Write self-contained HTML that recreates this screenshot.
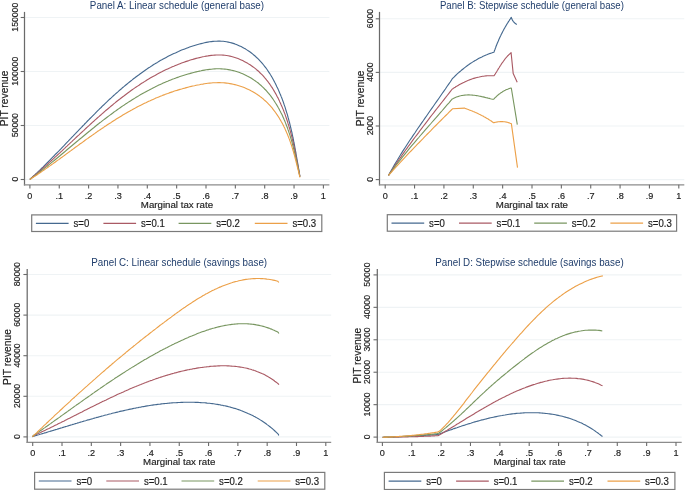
<!DOCTYPE html>
<html><head><meta charset="utf-8"><title>PIT revenue panels</title>
<style>
html,body{margin:0;padding:0;background:#fff;}
svg{display:block;}
text{font-family:"Liberation Sans", Arial, Helvetica, sans-serif;fill:#1e1e1e;stroke:#1e1e1e;stroke-width:0.18px;}
.ti{stroke:none;}
.tk{font-size:9.3px;}
.ty{font-size:9.8px;}
.ay{font-size:10.3px;letter-spacing:0px;}
.at{font-size:9.7px;}
.lg{font-size:10.0px;}
.ti{font-size:11.2px;fill:#1f3d6b;}
</style></head>
<body>
<svg width="685" height="490" viewBox="0 0 685 490">
<rect width="685" height="490" fill="#fff"/>
<line x1="25.2" y1="179.5" x2="329.4" y2="179.5" stroke="#eff3f5" stroke-width="1.1"/>
<line x1="25.2" y1="125.5" x2="329.4" y2="125.5" stroke="#eff3f5" stroke-width="1.1"/>
<line x1="25.2" y1="71.5" x2="329.4" y2="71.5" stroke="#eff3f5" stroke-width="1.1"/>
<line x1="25.2" y1="17.5" x2="329.4" y2="17.5" stroke="#eff3f5" stroke-width="1.1"/>
<path d="M29.9,179.5 L31.1,178.2 L32.3,177.1 L33.5,176.0 L34.8,174.9 L36.0,173.7 L37.2,172.6 L38.4,171.4 L39.6,170.3 L40.8,169.1 L42.0,167.9 L43.2,166.8 L44.4,165.6 L45.6,164.4 L46.8,163.2 L48.0,162.0 L49.1,160.8 L50.3,159.6 L51.5,158.4 L52.7,157.2 L53.9,156.0 L55.1,154.7 L56.3,153.5 L57.5,152.3 L58.7,151.1 L59.9,149.8 L61.1,148.6 L62.3,147.3 L63.5,146.1 L64.7,144.8 L65.8,143.6 L67.0,142.3 L68.2,141.1 L69.4,139.8 L70.6,138.6 L71.8,137.3 L73.0,136.1 L74.2,134.8 L75.4,133.6 L76.6,132.3 L77.8,131.1 L79.0,129.8 L80.2,128.6 L81.5,127.3 L82.7,126.0 L83.9,124.8 L85.1,123.5 L86.3,122.3 L87.5,121.0 L88.7,119.8 L90.0,118.5 L91.2,117.3 L92.4,116.1 L93.7,114.8 L94.9,113.6 L96.1,112.3 L97.3,111.1 L98.6,109.9 L99.8,108.7 L101.1,107.5 L102.3,106.2 L103.6,105.0 L104.8,103.8 L106.1,102.6 L107.4,101.4 L108.6,100.2 L109.9,99.0 L111.2,97.9 L112.5,96.7 L113.7,95.5 L115.0,94.4 L116.3,93.2 L117.6,92.1 L118.9,90.9 L120.2,89.8 L121.5,88.7 L122.8,87.5 L124.2,86.4 L125.5,85.3 L126.8,84.2 L128.1,83.1 L129.5,82.0 L130.8,81.0 L132.2,79.9 L133.5,78.8 L134.9,77.8 L136.2,76.7 L137.6,75.7 L139.0,74.7 L140.3,73.7 L141.7,72.7 L143.1,71.7 L144.5,70.7 L145.9,69.7 L147.3,68.8 L148.7,67.8 L150.2,66.9 L151.6,66.0 L153.0,65.0 L154.5,64.1 L155.9,63.2 L157.4,62.4 L158.8,61.5 L160.3,60.6 L161.8,59.8 L163.2,59.0 L164.7,58.2 L166.2,57.4 L167.7,56.6 L169.2,55.8 L170.8,55.0 L172.3,54.3 L173.8,53.6 L175.4,52.9 L176.9,52.2 L178.5,51.5 L180.0,50.8 L181.6,50.1 L183.2,49.5 L184.8,48.9 L186.4,48.3 L188.0,47.7 L189.6,47.1 L191.2,46.5 L192.8,46.0 L194.5,45.5 L196.1,45.0 L197.8,44.5 L199.5,44.0 L201.1,43.6 L202.8,43.2 L204.5,42.8 L206.2,42.4 L207.9,42.1 L209.6,41.8 L211.3,41.6 L213.0,41.4 L214.7,41.3 L216.4,41.2 L218.1,41.1 L219.8,41.1 L221.4,41.2 L223.1,41.3 L224.8,41.5 L226.5,41.8 L228.2,42.1 L229.9,42.5 L231.5,42.9 L233.2,43.4 L234.8,43.9 L236.4,44.5 L238.0,45.2 L239.6,45.9 L241.2,46.6 L242.7,47.4 L244.2,48.3 L245.7,49.1 L247.2,50.1 L248.6,51.0 L250.1,52.0 L251.4,53.0 L252.8,54.1 L254.1,55.2 L255.4,56.3 L256.6,57.5 L257.9,58.7 L259.1,59.9 L260.2,61.1 L261.4,62.4 L262.5,63.7 L263.6,65.0 L264.6,66.3 L265.7,67.7 L266.7,69.0 L267.7,70.5 L268.6,71.9 L269.6,73.3 L270.5,74.8 L271.4,76.2 L272.3,77.7 L273.1,79.2 L273.9,80.7 L274.7,82.3 L275.5,83.8 L276.3,85.4 L277.0,86.9 L277.8,88.5 L278.5,90.1 L279.2,91.7 L279.8,93.2 L280.5,94.8 L281.1,96.4 L281.8,98.0 L282.4,99.6 L283.0,101.2 L283.6,102.9 L284.1,104.5 L284.7,106.1 L285.2,107.7 L285.7,109.3 L286.2,111.0 L286.7,112.6 L287.2,114.2 L287.7,115.9 L288.1,117.5 L288.6,119.2 L289.0,120.8 L289.5,122.5 L289.9,124.1 L290.3,125.8 L290.7,127.5 L291.1,129.1 L291.5,130.8 L291.9,132.4 L292.2,134.1 L292.6,135.8 L292.9,137.5 L293.3,139.1 L293.6,140.8 L293.9,142.5 L294.3,144.2 L294.6,145.8 L294.9,147.5 L295.2,149.2 L295.5,150.9 L295.9,152.6 L296.1,154.3 L296.4,156.0 L296.7,157.7 L297.0,159.3 L297.3,161.0 L297.6,162.7 L297.9,164.4 L298.2,166.1 L298.5,167.8 L298.8,169.5 L299.1,171.2 L299.4,172.9 L299.6,174.6 L299.9,176.3" fill="none" stroke="#45698f" stroke-width="1.12" stroke-linejoin="round"/>
<path d="M29.9,179.5 L31.1,178.4 L32.3,177.3 L33.5,176.3 L34.8,175.3 L36.0,174.3 L37.2,173.3 L38.4,172.2 L39.6,171.2 L40.8,170.2 L42.0,169.1 L43.2,168.0 L44.4,167.0 L45.6,165.9 L46.8,164.8 L48.0,163.8 L49.1,162.7 L50.3,161.6 L51.5,160.5 L52.7,159.4 L53.9,158.3 L55.1,157.2 L56.3,156.1 L57.5,155.0 L58.7,153.9 L59.9,152.8 L61.1,151.7 L62.3,150.6 L63.5,149.4 L64.7,148.3 L65.8,147.2 L67.0,146.1 L68.2,144.9 L69.4,143.8 L70.6,142.7 L71.8,141.6 L73.0,140.4 L74.2,139.3 L75.4,138.2 L76.6,137.0 L77.8,135.9 L79.0,134.8 L80.2,133.6 L81.5,132.5 L82.7,131.4 L83.9,130.3 L85.1,129.1 L86.3,128.0 L87.5,126.9 L88.7,125.8 L90.0,124.6 L91.2,123.5 L92.4,122.4 L93.7,121.3 L94.9,120.2 L96.1,119.1 L97.3,118.0 L98.6,116.9 L99.8,115.8 L101.1,114.7 L102.3,113.6 L103.6,112.5 L104.8,111.4 L106.1,110.3 L107.4,109.2 L108.6,108.2 L109.9,107.1 L111.2,106.0 L112.5,105.0 L113.7,103.9 L115.0,102.9 L116.3,101.8 L117.6,100.8 L118.9,99.8 L120.2,98.8 L121.5,97.7 L122.8,96.7 L124.2,95.7 L125.5,94.7 L126.8,93.7 L128.1,92.8 L129.5,91.8 L130.8,90.8 L132.2,89.8 L133.5,88.9 L134.9,87.9 L136.2,87.0 L137.6,86.1 L139.0,85.2 L140.3,84.2 L141.7,83.3 L143.1,82.5 L144.5,81.6 L145.9,80.7 L147.3,79.8 L148.7,79.0 L150.2,78.1 L151.6,77.3 L153.0,76.5 L154.5,75.7 L155.9,74.9 L157.4,74.1 L158.8,73.3 L160.3,72.5 L161.8,71.8 L163.2,71.0 L164.7,70.3 L166.2,69.6 L167.7,68.9 L169.2,68.2 L170.8,67.5 L172.3,66.8 L173.8,66.2 L175.4,65.5 L176.9,64.9 L178.5,64.3 L180.0,63.7 L181.6,63.1 L183.2,62.5 L184.8,61.9 L186.4,61.4 L188.0,60.9 L189.6,60.3 L191.2,59.8 L192.8,59.4 L194.5,58.9 L196.1,58.4 L197.8,58.0 L199.5,57.6 L201.1,57.2 L202.8,56.8 L204.5,56.5 L206.2,56.1 L207.9,55.9 L209.6,55.6 L211.3,55.4 L213.0,55.2 L214.7,55.1 L216.4,55.0 L218.1,55.0 L219.8,55.0 L221.4,55.0 L223.1,55.1 L224.8,55.3 L226.5,55.5 L228.2,55.8 L229.9,56.1 L231.5,56.5 L233.2,57.0 L234.8,57.5 L236.4,58.0 L238.0,58.6 L239.6,59.2 L241.2,59.9 L242.7,60.6 L244.2,61.4 L245.7,62.2 L247.2,63.0 L248.6,63.9 L250.1,64.8 L251.4,65.7 L252.8,66.7 L254.1,67.6 L255.4,68.6 L256.6,69.7 L257.9,70.8 L259.1,71.8 L260.2,73.0 L261.4,74.1 L262.5,75.2 L263.6,76.4 L264.6,77.6 L265.7,78.8 L266.7,80.1 L267.7,81.3 L268.6,82.6 L269.6,83.9 L270.5,85.2 L271.4,86.6 L272.3,87.9 L273.1,89.2 L273.9,90.6 L274.7,92.0 L275.5,93.4 L276.3,94.8 L277.0,96.2 L277.8,97.6 L278.5,99.0 L279.2,100.4 L279.8,101.9 L280.5,103.3 L281.1,104.7 L281.8,106.2 L282.4,107.6 L283.0,109.1 L283.6,110.5 L284.1,112.0 L284.7,113.4 L285.2,114.9 L285.7,116.4 L286.2,117.8 L286.7,119.3 L287.2,120.8 L287.7,122.3 L288.1,123.7 L288.6,125.2 L289.0,126.7 L289.5,128.2 L289.9,129.7 L290.3,131.2 L290.7,132.7 L291.1,134.2 L291.5,135.7 L291.9,137.2 L292.2,138.7 L292.6,140.2 L292.9,141.7 L293.3,143.2 L293.6,144.7 L293.9,146.2 L294.3,147.7 L294.6,149.2 L294.9,150.7 L295.2,152.2 L295.5,153.8 L295.9,155.3 L296.1,156.8 L296.4,158.3 L296.7,159.8 L297.0,161.4 L297.3,162.9 L297.6,164.4 L297.9,165.9 L298.2,167.5 L298.5,169.0 L298.8,170.5 L299.1,172.0 L299.4,173.6 L299.6,175.1 L299.9,176.6" fill="none" stroke="#aa5a64" stroke-width="1.12" stroke-linejoin="round"/>
<path d="M29.9,179.5 L31.1,178.5 L32.3,177.6 L33.5,176.7 L34.8,175.8 L36.0,174.9 L37.2,174.0 L38.4,173.0 L39.6,172.1 L40.8,171.2 L42.0,170.2 L43.2,169.3 L44.4,168.4 L45.6,167.4 L46.8,166.5 L48.0,165.5 L49.1,164.6 L50.3,163.6 L51.5,162.6 L52.7,161.6 L53.9,160.7 L55.1,159.7 L56.3,158.7 L57.5,157.7 L58.7,156.7 L59.9,155.8 L61.1,154.8 L62.3,153.8 L63.5,152.8 L64.7,151.8 L65.8,150.8 L67.0,149.8 L68.2,148.8 L69.4,147.8 L70.6,146.8 L71.8,145.8 L73.0,144.8 L74.2,143.8 L75.4,142.8 L76.6,141.8 L77.8,140.8 L79.0,139.7 L80.2,138.7 L81.5,137.7 L82.7,136.7 L83.9,135.7 L85.1,134.7 L86.3,133.7 L87.5,132.7 L88.7,131.7 L90.0,130.7 L91.2,129.7 L92.4,128.8 L93.7,127.8 L94.9,126.8 L96.1,125.8 L97.3,124.8 L98.6,123.8 L99.8,122.8 L101.1,121.9 L102.3,120.9 L103.6,119.9 L104.8,119.0 L106.1,118.0 L107.4,117.0 L108.6,116.1 L109.9,115.1 L111.2,114.2 L112.5,113.3 L113.7,112.3 L115.0,111.4 L116.3,110.5 L117.6,109.5 L118.9,108.6 L120.2,107.7 L121.5,106.8 L122.8,105.9 L124.2,105.0 L125.5,104.1 L126.8,103.3 L128.1,102.4 L129.5,101.5 L130.8,100.7 L132.2,99.8 L133.5,99.0 L134.9,98.1 L136.2,97.3 L137.6,96.5 L139.0,95.6 L140.3,94.8 L141.7,94.0 L143.1,93.2 L144.5,92.5 L145.9,91.7 L147.3,90.9 L148.7,90.2 L150.2,89.4 L151.6,88.7 L153.0,87.9 L154.5,87.2 L155.9,86.5 L157.4,85.8 L158.8,85.1 L160.3,84.4 L161.8,83.8 L163.2,83.1 L164.7,82.4 L166.2,81.8 L167.7,81.2 L169.2,80.5 L170.8,79.9 L172.3,79.3 L173.8,78.8 L175.4,78.2 L176.9,77.6 L178.5,77.1 L180.0,76.5 L181.6,76.0 L183.2,75.5 L184.8,75.0 L186.4,74.5 L188.0,74.0 L189.6,73.6 L191.2,73.1 L192.8,72.7 L194.5,72.3 L196.1,71.9 L197.8,71.5 L199.5,71.1 L201.1,70.8 L202.8,70.4 L204.5,70.1 L206.2,69.8 L207.9,69.6 L209.6,69.4 L211.3,69.2 L213.0,69.0 L214.7,68.9 L216.4,68.8 L218.1,68.8 L219.8,68.8 L221.4,68.9 L223.1,69.0 L224.8,69.1 L226.5,69.3 L228.2,69.6 L229.9,69.9 L231.5,70.2 L233.2,70.6 L234.8,71.0 L236.4,71.5 L238.0,72.0 L239.6,72.6 L241.2,73.2 L242.7,73.8 L244.2,74.5 L245.7,75.2 L247.2,76.0 L248.6,76.7 L250.1,77.5 L251.4,78.3 L252.8,79.2 L254.1,80.1 L255.4,81.0 L256.6,81.9 L257.9,82.8 L259.1,83.8 L260.2,84.8 L261.4,85.8 L262.5,86.8 L263.6,87.9 L264.6,89.0 L265.7,90.0 L266.7,91.1 L267.7,92.3 L268.6,93.4 L269.6,94.5 L270.5,95.7 L271.4,96.9 L272.3,98.1 L273.1,99.3 L273.9,100.5 L274.7,101.7 L275.5,103.0 L276.3,104.2 L277.0,105.4 L277.8,106.7 L278.5,108.0 L279.2,109.2 L279.8,110.5 L280.5,111.8 L281.1,113.0 L281.8,114.3 L282.4,115.6 L283.0,116.9 L283.6,118.2 L284.1,119.5 L284.7,120.8 L285.2,122.1 L285.7,123.4 L286.2,124.7 L286.7,126.0 L287.2,127.3 L287.7,128.6 L288.1,129.9 L288.6,131.2 L289.0,132.6 L289.5,133.9 L289.9,135.2 L290.3,136.5 L290.7,137.9 L291.1,139.2 L291.5,140.5 L291.9,141.9 L292.2,143.2 L292.6,144.5 L292.9,145.9 L293.3,147.2 L293.6,148.6 L293.9,149.9 L294.3,151.2 L294.6,152.6 L294.9,153.9 L295.2,155.3 L295.5,156.6 L295.9,158.0 L296.1,159.3 L296.4,160.7 L296.7,162.0 L297.0,163.4 L297.3,164.7 L297.6,166.1 L297.9,167.4 L298.2,168.8 L298.5,170.2 L298.8,171.5 L299.1,172.9 L299.4,174.2 L299.6,175.6 L299.9,176.9" fill="none" stroke="#789660" stroke-width="1.12" stroke-linejoin="round"/>
<path d="M29.9,179.5 L31.1,178.6 L32.3,177.8 L33.5,177.0 L34.8,176.2 L36.0,175.5 L37.2,174.7 L38.4,173.8 L39.6,173.0 L40.8,172.2 L42.0,171.4 L43.2,170.6 L44.4,169.8 L45.6,168.9 L46.8,168.1 L48.0,167.3 L49.1,166.4 L50.3,165.6 L51.5,164.7 L52.7,163.9 L53.9,163.0 L55.1,162.2 L56.3,161.3 L57.5,160.4 L58.7,159.6 L59.9,158.7 L61.1,157.8 L62.3,157.0 L63.5,156.1 L64.7,155.2 L65.8,154.4 L67.0,153.5 L68.2,152.6 L69.4,151.7 L70.6,150.9 L71.8,150.0 L73.0,149.1 L74.2,148.2 L75.4,147.3 L76.6,146.5 L77.8,145.6 L79.0,144.7 L80.2,143.8 L81.5,143.0 L82.7,142.1 L83.9,141.2 L85.1,140.3 L86.3,139.4 L87.5,138.6 L88.7,137.7 L90.0,136.8 L91.2,136.0 L92.4,135.1 L93.7,134.2 L94.9,133.4 L96.1,132.5 L97.3,131.6 L98.6,130.8 L99.8,129.9 L101.1,129.1 L102.3,128.2 L103.6,127.4 L104.8,126.5 L106.1,125.7 L107.4,124.8 L108.6,124.0 L109.9,123.2 L111.2,122.4 L112.5,121.5 L113.7,120.7 L115.0,119.9 L116.3,119.1 L117.6,118.3 L118.9,117.5 L120.2,116.7 L121.5,115.9 L122.8,115.1 L124.2,114.3 L125.5,113.6 L126.8,112.8 L128.1,112.0 L129.5,111.3 L130.8,110.5 L132.2,109.8 L133.5,109.0 L134.9,108.3 L136.2,107.6 L137.6,106.8 L139.0,106.1 L140.3,105.4 L141.7,104.7 L143.1,104.0 L144.5,103.3 L145.9,102.7 L147.3,102.0 L148.7,101.3 L150.2,100.7 L151.6,100.0 L153.0,99.4 L154.5,98.8 L155.9,98.1 L157.4,97.5 L158.8,96.9 L160.3,96.3 L161.8,95.7 L163.2,95.1 L164.7,94.6 L166.2,94.0 L167.7,93.5 L169.2,92.9 L170.8,92.4 L172.3,91.9 L173.8,91.3 L175.4,90.8 L176.9,90.4 L178.5,89.9 L180.0,89.4 L181.6,89.0 L183.2,88.5 L184.8,88.1 L186.4,87.6 L188.0,87.2 L189.6,86.8 L191.2,86.4 L192.8,86.0 L194.5,85.7 L196.1,85.3 L197.8,85.0 L199.5,84.7 L201.1,84.3 L202.8,84.1 L204.5,83.8 L206.2,83.5 L207.9,83.3 L209.6,83.1 L211.3,83.0 L213.0,82.8 L214.7,82.7 L216.4,82.7 L218.1,82.6 L219.8,82.6 L221.4,82.7 L223.1,82.8 L224.8,82.9 L226.5,83.1 L228.2,83.3 L229.9,83.6 L231.5,83.9 L233.2,84.2 L234.8,84.6 L236.4,85.0 L238.0,85.5 L239.6,86.0 L241.2,86.5 L242.7,87.0 L244.2,87.6 L245.7,88.2 L247.2,88.9 L248.6,89.6 L250.1,90.3 L251.4,91.0 L252.8,91.7 L254.1,92.5 L255.4,93.3 L256.6,94.1 L257.9,94.9 L259.1,95.8 L260.2,96.6 L261.4,97.5 L262.5,98.4 L263.6,99.3 L264.6,100.3 L265.7,101.2 L266.7,102.2 L267.7,103.2 L268.6,104.2 L269.6,105.2 L270.5,106.2 L271.4,107.2 L272.3,108.2 L273.1,109.3 L273.9,110.4 L274.7,111.4 L275.5,112.5 L276.3,113.6 L277.0,114.7 L277.8,115.8 L278.5,116.9 L279.2,118.0 L279.8,119.1 L280.5,120.2 L281.1,121.3 L281.8,122.5 L282.4,123.6 L283.0,124.7 L283.6,125.8 L284.1,127.0 L284.7,128.1 L285.2,129.3 L285.7,130.4 L286.2,131.5 L286.7,132.7 L287.2,133.8 L287.7,135.0 L288.1,136.1 L288.6,137.3 L289.0,138.4 L289.5,139.6 L289.9,140.8 L290.3,141.9 L290.7,143.1 L291.1,144.2 L291.5,145.4 L291.9,146.6 L292.2,147.7 L292.6,148.9 L292.9,150.1 L293.3,151.2 L293.6,152.4 L293.9,153.6 L294.3,154.8 L294.6,155.9 L294.9,157.1 L295.2,158.3 L295.5,159.5 L295.9,160.7 L296.1,161.8 L296.4,163.0 L296.7,164.2 L297.0,165.4 L297.3,166.6 L297.6,167.8 L297.9,168.9 L298.2,170.1 L298.5,171.3 L298.8,172.5 L299.1,173.7 L299.4,174.9 L299.6,176.1 L299.9,177.3" fill="none" stroke="#eca048" stroke-width="1.12" stroke-linejoin="round"/>
<line x1="24.5" y1="11.9" x2="24.5" y2="185.5" stroke="#6a6a6a" stroke-width="1.25"/>
<line x1="23.9" y1="184.9" x2="329.4" y2="184.9" stroke="#8c8c8c" stroke-width="1.35"/>
<line x1="20.7" y1="179.5" x2="24.5" y2="179.5" stroke="#6a6a6a" stroke-width="1.1"/>
<text class="ty" text-anchor="middle" transform="translate(17.6,179.2) rotate(-90) scale(0.885,1)">0</text>
<line x1="20.7" y1="125.5" x2="24.5" y2="125.5" stroke="#6a6a6a" stroke-width="1.1"/>
<text class="ty" text-anchor="middle" transform="translate(17.6,125.2) rotate(-90) scale(0.885,1)">50000</text>
<line x1="20.7" y1="71.5" x2="24.5" y2="71.5" stroke="#6a6a6a" stroke-width="1.1"/>
<text class="ty" text-anchor="middle" transform="translate(17.6,71.2) rotate(-90) scale(0.885,1)">100000</text>
<line x1="20.7" y1="17.5" x2="24.5" y2="17.5" stroke="#6a6a6a" stroke-width="1.1"/>
<text class="ty" text-anchor="middle" transform="translate(17.6,17.2) rotate(-90) scale(0.885,1)">150000</text>
<line x1="29.9" y1="184.9" x2="29.9" y2="188.6" stroke="#6a6a6a" stroke-width="1.1"/>
<text class="tk" text-anchor="middle" transform="translate(29.9,198.5) scale(0.98,1)">0</text>
<line x1="59.25" y1="184.9" x2="59.25" y2="188.6" stroke="#6a6a6a" stroke-width="1.1"/>
<text class="tk" text-anchor="middle" transform="translate(59.25,198.5) scale(0.98,1)">.1</text>
<line x1="88.6" y1="184.9" x2="88.6" y2="188.6" stroke="#6a6a6a" stroke-width="1.1"/>
<text class="tk" text-anchor="middle" transform="translate(88.6,198.5) scale(0.98,1)">.2</text>
<line x1="117.95" y1="184.9" x2="117.95" y2="188.6" stroke="#6a6a6a" stroke-width="1.1"/>
<text class="tk" text-anchor="middle" transform="translate(117.95,198.5) scale(0.98,1)">.3</text>
<line x1="147.3" y1="184.9" x2="147.3" y2="188.6" stroke="#6a6a6a" stroke-width="1.1"/>
<text class="tk" text-anchor="middle" transform="translate(147.3,198.5) scale(0.98,1)">.4</text>
<line x1="176.65" y1="184.9" x2="176.65" y2="188.6" stroke="#6a6a6a" stroke-width="1.1"/>
<text class="tk" text-anchor="middle" transform="translate(176.65,198.5) scale(0.98,1)">.5</text>
<line x1="206" y1="184.9" x2="206" y2="188.6" stroke="#6a6a6a" stroke-width="1.1"/>
<text class="tk" text-anchor="middle" transform="translate(206,198.5) scale(0.98,1)">.6</text>
<line x1="235.35" y1="184.9" x2="235.35" y2="188.6" stroke="#6a6a6a" stroke-width="1.1"/>
<text class="tk" text-anchor="middle" transform="translate(235.35,198.5) scale(0.98,1)">.7</text>
<line x1="264.7" y1="184.9" x2="264.7" y2="188.6" stroke="#6a6a6a" stroke-width="1.1"/>
<text class="tk" text-anchor="middle" transform="translate(264.7,198.5) scale(0.98,1)">.8</text>
<line x1="294.05" y1="184.9" x2="294.05" y2="188.6" stroke="#6a6a6a" stroke-width="1.1"/>
<text class="tk" text-anchor="middle" transform="translate(294.05,198.5) scale(0.98,1)">.9</text>
<line x1="323.4" y1="184.9" x2="323.4" y2="188.6" stroke="#6a6a6a" stroke-width="1.1"/>
<text class="tk" text-anchor="middle" transform="translate(323.4,198.5) scale(0.98,1)">1</text>
<text class="at" text-anchor="middle" transform="translate(176.95,208) scale(1.0,1)">Marginal tax rate</text>
<text class="ay" text-anchor="middle" transform="translate(7.7,98.4) rotate(-90)">PIT revenue</text>
<text class="ti" text-anchor="middle" transform="translate(176.95,8.5) scale(0.875,1)">Panel A: Linear schedule (general base)</text>
<rect x="31.7" y="214.9" width="290.1" height="16.6" fill="#fff" stroke="#7a7a7a" stroke-width="1.2"/>
<line x1="35.9" y1="223.4" x2="68.6" y2="223.4" stroke="#45698f" stroke-width="1.15"/>
<text class="lg" transform="translate(73.5,227.4) scale(0.96,1)">s=0</text>
<line x1="103.4" y1="223.4" x2="136.1" y2="223.4" stroke="#aa5a64" stroke-width="1.15"/>
<text class="lg" transform="translate(141,227.4) scale(0.96,1)">s=0.1</text>
<line x1="178.6" y1="223.4" x2="211.3" y2="223.4" stroke="#789660" stroke-width="1.15"/>
<text class="lg" transform="translate(216.2,227.4) scale(0.96,1)">s=0.2</text>
<line x1="254.8" y1="223.4" x2="287.5" y2="223.4" stroke="#eca048" stroke-width="1.15"/>
<text class="lg" transform="translate(292.4,227.4) scale(0.96,1)">s=0.3</text>
<line x1="380.2" y1="179.6" x2="684.3" y2="179.6" stroke="#eff3f5" stroke-width="1.1"/>
<line x1="380.2" y1="126" x2="684.3" y2="126" stroke="#eff3f5" stroke-width="1.1"/>
<line x1="380.2" y1="72.4" x2="684.3" y2="72.4" stroke="#eff3f5" stroke-width="1.1"/>
<line x1="380.2" y1="18.8" x2="684.3" y2="18.8" stroke="#eff3f5" stroke-width="1.1"/>
<path d="M388.5,175.4 L389.9,172.8 L391.4,170.2 L392.8,167.7 L394.3,165.1 L395.8,162.5 L397.4,160.0 L398.9,157.5 L400.4,155.0 L402.0,152.4 L403.6,149.9 L405.2,147.5 L406.8,145.0 L408.4,142.5 L410.0,140.0 L411.7,137.6 L413.3,135.1 L415.0,132.7 L416.6,130.2 L418.3,127.8 L420.0,125.4 L421.7,122.9 L423.4,120.5 L425.0,118.1 L426.7,115.7 L428.4,113.2 L430.1,110.8 L431.8,108.4 L433.5,106.0 L435.2,103.5 L436.9,101.1 L438.6,98.7 L440.3,96.3 L442.0,93.8 L443.7,91.4 L445.4,89.0 L447.0,86.5 L448.7,84.1 L450.4,81.7 L452.0,79.2 L452.9,78.2 L453.8,77.3 L454.7,76.4 L455.6,75.5 L456.5,74.6 L457.5,73.7 L458.4,72.9 L459.4,72.0 L460.4,71.2 L461.4,70.3 L462.4,69.5 L463.4,68.7 L464.4,67.9 L465.4,67.1 L466.5,66.3 L467.5,65.5 L468.6,64.8 L469.6,64.0 L470.7,63.3 L471.8,62.6 L472.9,61.9 L474.0,61.2 L475.1,60.5 L476.2,59.9 L477.4,59.2 L478.5,58.6 L479.6,58.0 L480.8,57.4 L481.9,56.9 L483.1,56.3 L484.3,55.8 L485.5,55.2 L486.7,54.8 L487.9,54.3 L489.1,53.8 L490.3,53.4 L491.5,53.0 L492.8,52.5 L494.0,52.2 L494.3,51.2 L494.6,50.3 L495.0,49.4 L495.3,48.4 L495.7,47.5 L496.0,46.5 L496.4,45.6 L496.7,44.7 L497.1,43.7 L497.5,42.8 L497.9,41.9 L498.3,41.0 L498.7,40.0 L499.1,39.1 L499.5,38.2 L499.9,37.3 L500.3,36.4 L500.8,35.5 L501.2,34.6 L501.6,33.7 L502.1,32.9 L502.5,32.0 L503.0,31.1 L503.5,30.2 L503.9,29.3 L504.4,28.4 L504.9,27.6 L505.4,26.7 L505.9,25.9 L506.4,25.0 L506.9,24.1 L507.5,23.3 L508.0,22.4 L508.5,21.6 L509.1,20.7 L509.6,19.9 L510.2,19.1 L510.7,18.2 L511.3,17.4 L511.4,17.6 L511.4,17.9 L511.5,18.1 L511.6,18.3 L511.7,18.6 L511.8,18.8 L511.9,19.0 L512.0,19.2 L512.1,19.4 L512.2,19.6 L512.3,19.9 L512.4,20.1 L512.5,20.3 L512.6,20.5 L512.8,20.7 L512.9,20.9 L513.0,21.0 L513.1,21.2 L513.3,21.4 L513.4,21.6 L513.6,21.8 L513.7,21.9 L513.9,22.1 L514.0,22.3 L514.2,22.5 L514.3,22.6 L514.5,22.8 L514.7,22.9 L514.9,23.1 L515.0,23.3 L515.2,23.4 L515.4,23.6 L515.6,23.7 L515.8,23.8 L516.0,24.0 L516.2,24.1 L516.4,24.2 L516.6,24.4 L516.8,24.5" fill="none" stroke="#45698f" stroke-width="1.12" stroke-linejoin="round"/>
<path d="M388.5,175.4 L390.0,173.1 L391.5,170.8 L393.0,168.5 L394.5,166.2 L396.1,163.9 L397.6,161.6 L399.2,159.3 L400.8,157.1 L402.3,154.8 L403.9,152.6 L405.5,150.3 L407.1,148.1 L408.7,145.8 L410.4,143.6 L412.0,141.4 L413.6,139.2 L415.2,137.0 L416.9,134.8 L418.6,132.6 L420.2,130.3 L421.9,128.2 L423.5,126.0 L425.2,123.8 L426.9,121.6 L428.6,119.4 L430.2,117.2 L431.9,115.0 L433.6,112.9 L435.3,110.7 L437.0,108.5 L438.7,106.3 L440.4,104.2 L442.1,102.0 L443.8,99.8 L445.5,97.7 L447.2,95.5 L448.9,93.3 L450.6,91.2 L452.3,89.0 L453.3,88.4 L454.2,87.8 L455.2,87.2 L456.1,86.5 L457.1,86.0 L458.1,85.4 L459.1,84.8 L460.1,84.2 L461.1,83.7 L462.1,83.2 L463.1,82.7 L464.2,82.2 L465.2,81.7 L466.3,81.2 L467.3,80.8 L468.4,80.3 L469.4,79.9 L470.5,79.5 L471.6,79.1 L472.6,78.7 L473.7,78.4 L474.8,78.1 L475.9,77.8 L477.0,77.5 L478.1,77.2 L479.2,77.0 L480.4,76.7 L481.5,76.5 L482.6,76.3 L483.7,76.2 L484.9,76.0 L486.0,75.9 L487.1,75.8 L488.3,75.8 L489.4,75.7 L490.6,75.7 L491.7,75.7 L492.9,75.7 L494.0,75.8 L494.4,75.2 L494.8,74.6 L495.2,74.0 L495.6,73.3 L496.0,72.7 L496.4,72.1 L496.8,71.5 L497.2,70.8 L497.6,70.2 L497.9,69.6 L498.3,68.9 L498.7,68.3 L499.1,67.7 L499.5,67.0 L499.9,66.4 L500.3,65.8 L500.7,65.2 L501.1,64.5 L501.5,63.9 L501.9,63.3 L502.3,62.7 L502.8,62.1 L503.2,61.5 L503.6,60.9 L504.1,60.3 L504.5,59.7 L504.9,59.1 L505.4,58.5 L505.9,57.9 L506.4,57.4 L506.8,56.8 L507.3,56.3 L507.8,55.7 L508.4,55.2 L508.9,54.7 L509.4,54.2 L510.0,53.7 L510.5,53.2 L511.1,52.7 L513.2,73.6 L517.2,82.2" fill="none" stroke="#aa5a64" stroke-width="1.12" stroke-linejoin="round"/>
<path d="M388.5,175.4 L390.0,173.3 L391.5,171.3 L393.1,169.2 L394.6,167.2 L396.1,165.1 L397.7,163.1 L399.3,161.1 L400.9,159.1 L402.4,157.1 L404.1,155.1 L405.7,153.1 L407.3,151.2 L408.9,149.2 L410.5,147.2 L412.2,145.2 L413.8,143.3 L415.5,141.3 L417.1,139.4 L418.8,137.5 L420.4,135.5 L422.1,133.6 L423.8,131.7 L425.5,129.7 L427.1,127.8 L428.8,125.9 L430.5,124.0 L432.2,122.0 L433.9,120.1 L435.6,118.2 L437.2,116.3 L438.9,114.3 L440.6,112.4 L442.3,110.5 L443.9,108.6 L445.6,106.6 L447.3,104.7 L449.0,102.8 L450.6,100.8 L452.3,98.9 L453.3,98.5 L454.3,98.0 L455.4,97.5 L456.4,97.1 L457.4,96.7 L458.5,96.4 L459.5,96.0 L460.6,95.8 L461.6,95.5 L462.7,95.4 L463.8,95.2 L464.8,95.1 L465.9,95.0 L466.9,95.0 L468.0,94.9 L469.1,94.9 L470.1,95.0 L471.2,95.0 L472.3,95.1 L473.4,95.2 L474.4,95.3 L475.5,95.5 L476.6,95.6 L477.7,95.8 L478.7,96.0 L479.8,96.2 L480.9,96.4 L481.9,96.7 L483.0,96.9 L484.1,97.1 L485.1,97.4 L486.2,97.7 L487.3,97.9 L488.3,98.2 L489.4,98.4 L490.4,98.7 L491.5,99.0 L492.5,99.2 L493.6,99.3 L494.0,98.9 L494.3,98.5 L494.7,98.1 L495.1,97.7 L495.5,97.3 L495.9,97.0 L496.3,96.6 L496.7,96.2 L497.1,95.8 L497.5,95.5 L497.9,95.1 L498.3,94.8 L498.7,94.4 L499.2,94.1 L499.6,93.7 L500.1,93.4 L500.5,93.1 L500.9,92.8 L501.4,92.5 L501.9,92.2 L502.3,91.9 L502.8,91.6 L503.2,91.3 L503.7,91.0 L504.2,90.8 L504.7,90.5 L505.2,90.3 L505.6,90.0 L506.1,89.8 L506.6,89.6 L507.1,89.4 L507.6,89.2 L508.2,89.0 L508.7,88.8 L509.2,88.6 L509.7,88.4 L510.2,88.3 L510.8,88.1 L511.3,88.0 L517.3,124.6" fill="none" stroke="#789660" stroke-width="1.12" stroke-linejoin="round"/>
<path d="M388.5,175.4 L390.1,173.6 L391.7,171.9 L393.2,170.1 L394.8,168.3 L396.4,166.6 L398.0,164.8 L399.6,163.1 L401.2,161.4 L402.9,159.6 L404.5,157.9 L406.1,156.2 L407.7,154.4 L409.3,152.7 L411.0,151.0 L412.6,149.3 L414.2,147.6 L415.9,145.9 L417.5,144.2 L419.2,142.5 L420.8,140.8 L422.5,139.1 L424.1,137.4 L425.8,135.7 L427.4,134.0 L429.1,132.3 L430.8,130.6 L432.4,128.9 L434.1,127.2 L435.8,125.5 L437.4,123.9 L439.1,122.2 L440.8,120.5 L442.4,118.8 L444.1,117.2 L445.8,115.5 L447.5,113.8 L449.1,112.1 L450.8,110.5 L452.5,108.8 L464.5,108.1 L465.3,108.4 L466.1,108.7 L466.9,109.0 L467.6,109.3 L468.4,109.6 L469.2,109.9 L470.0,110.2 L470.8,110.5 L471.5,110.8 L472.3,111.1 L473.1,111.5 L473.9,111.8 L474.6,112.1 L475.4,112.5 L476.2,112.8 L476.9,113.1 L477.7,113.5 L478.5,113.8 L479.2,114.2 L480.0,114.6 L480.7,115.0 L481.5,115.3 L482.2,115.7 L483.0,116.1 L483.7,116.5 L484.4,116.9 L485.2,117.3 L485.9,117.7 L486.6,118.2 L487.3,118.6 L488.1,119.0 L488.8,119.5 L489.5,119.9 L490.2,120.4 L490.9,120.8 L491.6,121.3 L492.2,121.8 L492.9,122.3 L493.6,122.8 L494.1,122.7 L494.5,122.5 L494.9,122.4 L495.4,122.3 L495.9,122.2 L496.3,122.1 L496.8,122.0 L497.2,122.0 L497.7,121.9 L498.2,121.8 L498.6,121.8 L499.1,121.7 L499.6,121.7 L500.0,121.6 L500.5,121.6 L501.0,121.6 L501.4,121.6 L501.9,121.6 L502.4,121.6 L502.9,121.6 L503.3,121.7 L503.8,121.7 L504.2,121.8 L504.7,121.8 L505.2,121.9 L505.6,122.0 L506.1,122.0 L506.6,122.1 L507.0,122.2 L507.5,122.3 L507.9,122.5 L508.4,122.6 L508.8,122.7 L509.2,122.9 L509.7,123.0 L510.1,123.2 L510.6,123.4 L511.0,123.6 L511.4,123.8 L517.5,167.7" fill="none" stroke="#eca048" stroke-width="1.12" stroke-linejoin="round"/>
<line x1="379.5" y1="11.9" x2="379.5" y2="185.4" stroke="#6a6a6a" stroke-width="1.25"/>
<line x1="378.9" y1="184.8" x2="684.3" y2="184.8" stroke="#8c8c8c" stroke-width="1.35"/>
<line x1="375.7" y1="179.6" x2="379.5" y2="179.6" stroke="#6a6a6a" stroke-width="1.1"/>
<text class="ty" text-anchor="middle" transform="translate(372.6,179.3) rotate(-90) scale(0.885,1)">0</text>
<line x1="375.7" y1="126" x2="379.5" y2="126" stroke="#6a6a6a" stroke-width="1.1"/>
<text class="ty" text-anchor="middle" transform="translate(372.6,125.7) rotate(-90) scale(0.885,1)">2000</text>
<line x1="375.7" y1="72.4" x2="379.5" y2="72.4" stroke="#6a6a6a" stroke-width="1.1"/>
<text class="ty" text-anchor="middle" transform="translate(372.6,72.1) rotate(-90) scale(0.885,1)">4000</text>
<line x1="375.7" y1="18.8" x2="379.5" y2="18.8" stroke="#6a6a6a" stroke-width="1.1"/>
<text class="ty" text-anchor="middle" transform="translate(372.6,18.5) rotate(-90) scale(0.885,1)">6000</text>
<line x1="385.2" y1="184.8" x2="385.2" y2="188.5" stroke="#6a6a6a" stroke-width="1.1"/>
<text class="tk" text-anchor="middle" transform="translate(385.2,198.5) scale(0.98,1)">0</text>
<line x1="414.56" y1="184.8" x2="414.56" y2="188.5" stroke="#6a6a6a" stroke-width="1.1"/>
<text class="tk" text-anchor="middle" transform="translate(414.56,198.5) scale(0.98,1)">.1</text>
<line x1="443.92" y1="184.8" x2="443.92" y2="188.5" stroke="#6a6a6a" stroke-width="1.1"/>
<text class="tk" text-anchor="middle" transform="translate(443.92,198.5) scale(0.98,1)">.2</text>
<line x1="473.28" y1="184.8" x2="473.28" y2="188.5" stroke="#6a6a6a" stroke-width="1.1"/>
<text class="tk" text-anchor="middle" transform="translate(473.28,198.5) scale(0.98,1)">.3</text>
<line x1="502.64" y1="184.8" x2="502.64" y2="188.5" stroke="#6a6a6a" stroke-width="1.1"/>
<text class="tk" text-anchor="middle" transform="translate(502.64,198.5) scale(0.98,1)">.4</text>
<line x1="532" y1="184.8" x2="532" y2="188.5" stroke="#6a6a6a" stroke-width="1.1"/>
<text class="tk" text-anchor="middle" transform="translate(532,198.5) scale(0.98,1)">.5</text>
<line x1="561.36" y1="184.8" x2="561.36" y2="188.5" stroke="#6a6a6a" stroke-width="1.1"/>
<text class="tk" text-anchor="middle" transform="translate(561.36,198.5) scale(0.98,1)">.6</text>
<line x1="590.72" y1="184.8" x2="590.72" y2="188.5" stroke="#6a6a6a" stroke-width="1.1"/>
<text class="tk" text-anchor="middle" transform="translate(590.72,198.5) scale(0.98,1)">.7</text>
<line x1="620.08" y1="184.8" x2="620.08" y2="188.5" stroke="#6a6a6a" stroke-width="1.1"/>
<text class="tk" text-anchor="middle" transform="translate(620.08,198.5) scale(0.98,1)">.8</text>
<line x1="649.44" y1="184.8" x2="649.44" y2="188.5" stroke="#6a6a6a" stroke-width="1.1"/>
<text class="tk" text-anchor="middle" transform="translate(649.44,198.5) scale(0.98,1)">.9</text>
<line x1="678.8" y1="184.8" x2="678.8" y2="188.5" stroke="#6a6a6a" stroke-width="1.1"/>
<text class="tk" text-anchor="middle" transform="translate(678.8,198.5) scale(0.98,1)">1</text>
<text class="at" text-anchor="middle" transform="translate(531.9,208) scale(1.0,1)">Marginal tax rate</text>
<text class="ay" text-anchor="middle" transform="translate(363.7,98.35) rotate(-90)">PIT revenue</text>
<text class="ti" text-anchor="middle" transform="translate(531.9,8.5) scale(0.85925,1)">Panel B: Stepwise schedule (general base)</text>
<rect x="387.3" y="214.7" width="289.3" height="16.5" fill="#fff" stroke="#7a7a7a" stroke-width="1.2"/>
<line x1="391.5" y1="223.15" x2="424.2" y2="223.15" stroke="#45698f" stroke-width="1.15"/>
<text class="lg" transform="translate(429.1,227.15) scale(0.96,1)">s=0</text>
<line x1="459" y1="223.15" x2="491.7" y2="223.15" stroke="#aa5a64" stroke-width="1.15"/>
<text class="lg" transform="translate(496.6,227.15) scale(0.96,1)">s=0.1</text>
<line x1="534.2" y1="223.15" x2="566.9" y2="223.15" stroke="#789660" stroke-width="1.15"/>
<text class="lg" transform="translate(571.8,227.15) scale(0.96,1)">s=0.2</text>
<line x1="610.4" y1="223.15" x2="643.1" y2="223.15" stroke="#eca048" stroke-width="1.15"/>
<text class="lg" transform="translate(648,227.15) scale(0.96,1)">s=0.3</text>
<line x1="27.9" y1="436.9" x2="331.2" y2="436.9" stroke="#eff3f5" stroke-width="1.1"/>
<line x1="27.9" y1="396.3" x2="331.2" y2="396.3" stroke="#eff3f5" stroke-width="1.1"/>
<line x1="27.9" y1="355.7" x2="331.2" y2="355.7" stroke="#eff3f5" stroke-width="1.1"/>
<line x1="27.9" y1="315.1" x2="331.2" y2="315.1" stroke="#eff3f5" stroke-width="1.1"/>
<line x1="27.9" y1="274.5" x2="331.2" y2="274.5" stroke="#eff3f5" stroke-width="1.1"/>
<path d="M32.4,436.7 L34.0,436.1 L35.2,435.7 L36.4,435.4 L37.6,435.0 L38.8,434.7 L40.0,434.3 L41.2,434.0 L42.4,433.6 L43.6,433.3 L44.8,432.9 L46.0,432.6 L47.2,432.2 L48.4,431.8 L49.6,431.5 L50.8,431.1 L52.1,430.7 L53.3,430.4 L54.5,430.0 L55.7,429.6 L57.0,429.3 L58.2,428.9 L59.4,428.5 L60.6,428.1 L61.9,427.8 L63.1,427.4 L64.3,427.0 L65.6,426.6 L66.8,426.3 L68.1,425.9 L69.3,425.5 L70.5,425.1 L71.8,424.8 L73.0,424.4 L74.3,424.0 L75.5,423.6 L76.8,423.3 L78.0,422.9 L79.3,422.5 L80.5,422.1 L81.8,421.8 L83.1,421.4 L84.3,421.0 L85.6,420.7 L86.8,420.3 L88.1,419.9 L89.4,419.6 L90.6,419.2 L91.9,418.9 L93.2,418.5 L94.4,418.1 L95.7,417.8 L97.0,417.4 L98.2,417.1 L99.5,416.7 L100.8,416.4 L102.1,416.0 L103.3,415.7 L104.6,415.3 L105.9,415.0 L107.2,414.7 L108.5,414.3 L109.8,414.0 L111.0,413.7 L112.3,413.3 L113.6,413.0 L114.9,412.7 L116.2,412.4 L117.5,412.1 L118.7,411.8 L120.0,411.4 L121.3,411.1 L122.6,410.9 L123.9,410.6 L125.2,410.3 L126.5,410.0 L127.8,409.7 L129.1,409.4 L130.4,409.1 L131.7,408.9 L132.9,408.6 L134.2,408.3 L135.5,408.1 L136.8,407.8 L138.1,407.6 L139.4,407.3 L140.7,407.1 L142.0,406.8 L143.3,406.6 L144.6,406.4 L145.9,406.1 L147.2,405.9 L148.5,405.7 L149.8,405.5 L151.1,405.3 L152.4,405.1 L153.7,404.9 L155.0,404.8 L156.3,404.6 L157.6,404.4 L158.9,404.2 L160.2,404.1 L161.5,403.9 L162.8,403.8 L164.1,403.6 L165.4,403.5 L166.8,403.4 L168.1,403.2 L169.3,403.1 L170.7,403.0 L172.0,402.9 L173.3,402.8 L174.6,402.7 L175.9,402.7 L177.2,402.6 L178.5,402.5 L179.8,402.5 L181.1,402.4 L182.4,402.4 L183.7,402.3 L185.0,402.3 L186.3,402.3 L187.6,402.3 L188.9,402.2 L190.2,402.3 L191.5,402.3 L192.8,402.3 L194.1,402.3 L195.4,402.4 L196.7,402.4 L198.0,402.4 L199.3,402.5 L200.6,402.6 L201.9,402.7 L203.2,402.7 L204.5,402.8 L205.8,402.9 L207.1,403.1 L208.3,403.2 L209.6,403.3 L210.9,403.5 L212.2,403.6 L213.5,403.8 L214.8,404.0 L216.0,404.2 L217.3,404.4 L218.6,404.6 L219.8,404.8 L221.1,405.1 L222.4,405.3 L223.6,405.6 L224.9,405.8 L226.2,406.1 L227.4,406.4 L228.6,406.7 L229.9,407.0 L231.1,407.4 L232.4,407.7 L233.6,408.1 L234.8,408.4 L236.1,408.8 L237.3,409.2 L238.5,409.6 L239.7,410.0 L240.9,410.5 L242.1,410.9 L243.3,411.4 L244.5,411.9 L245.7,412.4 L246.9,412.9 L248.0,413.4 L249.2,413.9 L250.4,414.4 L251.5,415.0 L252.7,415.6 L253.8,416.2 L255.0,416.8 L256.1,417.4 L257.2,418.1 L258.4,418.7 L259.5,419.4 L260.6,420.1 L261.7,420.8 L262.8,421.5 L263.9,422.2 L265.0,423.0 L266.1,423.8 L267.1,424.6 L268.2,425.4 L269.3,426.2 L270.3,427.0 L271.4,427.9 L272.4,428.7 L273.4,429.6 L274.4,430.5 L275.4,431.5 L276.4,432.4 L277.4,433.4 L278.4,434.4 L278.7,435.5" fill="none" stroke="#45698f" stroke-width="1.12" stroke-linejoin="round"/>
<path d="M32.4,436.7 L33.7,435.6 L34.9,435.1 L36.0,434.6 L37.2,434.0 L38.3,433.5 L39.5,432.9 L40.7,432.4 L41.8,431.8 L43.0,431.3 L44.2,430.7 L45.3,430.2 L46.5,429.6 L47.7,429.0 L48.9,428.5 L50.0,427.9 L51.2,427.3 L52.4,426.8 L53.5,426.2 L54.7,425.6 L55.9,425.0 L57.1,424.4 L58.2,423.8 L59.4,423.2 L60.6,422.7 L61.8,422.1 L63.0,421.5 L64.2,420.9 L65.3,420.3 L66.5,419.7 L67.7,419.1 L68.9,418.5 L70.1,417.9 L71.3,417.3 L72.5,416.7 L73.7,416.1 L74.8,415.5 L76.0,414.9 L77.2,414.3 L78.4,413.7 L79.6,413.1 L80.8,412.4 L82.0,411.9 L83.2,411.2 L84.4,410.6 L85.6,410.0 L86.8,409.4 L88.0,408.8 L89.2,408.2 L90.4,407.6 L91.6,407.0 L92.8,406.4 L94.1,405.8 L95.3,405.2 L96.5,404.6 L97.7,404.0 L98.9,403.4 L100.1,402.8 L101.3,402.2 L102.5,401.6 L103.8,401.0 L105.0,400.4 L106.2,399.9 L107.4,399.3 L108.6,398.7 L109.9,398.1 L111.1,397.5 L112.3,396.9 L113.5,396.4 L114.8,395.8 L116.0,395.2 L117.2,394.6 L118.4,394.1 L119.7,393.5 L120.9,393.0 L122.1,392.4 L123.4,391.9 L124.6,391.3 L125.8,390.8 L127.1,390.2 L128.3,389.7 L129.6,389.1 L130.8,388.6 L132.0,388.1 L133.3,387.5 L134.5,387.0 L135.8,386.5 L137.0,386.0 L138.3,385.5 L139.5,385.0 L140.8,384.5 L142.0,384.0 L143.3,383.5 L144.5,383.0 L145.8,382.5 L147.0,382.0 L148.3,381.6 L149.6,381.1 L150.8,380.6 L152.1,380.2 L153.3,379.7 L154.6,379.3 L155.9,378.8 L157.1,378.4 L158.4,377.9 L159.7,377.5 L160.9,377.1 L162.2,376.7 L163.5,376.3 L164.8,375.9 L166.0,375.5 L167.3,375.1 L168.6,374.7 L169.9,374.4 L171.1,374.0 L172.4,373.6 L173.7,373.3 L175.0,372.9 L176.3,372.6 L177.6,372.2 L178.8,371.9 L180.1,371.6 L181.4,371.3 L182.7,371.0 L184.0,370.7 L185.3,370.4 L186.6,370.1 L187.9,369.8 L189.2,369.6 L190.5,369.3 L191.8,369.1 L193.1,368.8 L194.4,368.6 L195.7,368.4 L197.0,368.1 L198.3,367.9 L199.7,367.7 L201.0,367.5 L202.3,367.4 L203.6,367.2 L204.9,367.0 L206.2,366.9 L207.5,366.7 L208.9,366.6 L210.2,366.4 L211.5,366.3 L212.8,366.2 L214.1,366.1 L215.5,366.1 L216.8,366.0 L218.1,365.9 L219.4,365.9 L220.8,365.8 L222.1,365.8 L223.4,365.8 L224.7,365.8 L226.0,365.8 L227.4,365.9 L228.7,365.9 L230.0,366.0 L231.3,366.1 L232.6,366.2 L233.9,366.3 L235.2,366.4 L236.5,366.5 L237.8,366.7 L239.1,366.9 L240.4,367.1 L241.7,367.3 L243.0,367.5 L244.3,367.8 L245.6,368.0 L246.9,368.3 L248.1,368.6 L249.4,369.0 L250.7,369.3 L251.9,369.7 L253.2,370.1 L254.4,370.5 L255.7,370.9 L256.9,371.4 L258.2,371.9 L259.4,372.4 L260.6,372.9 L261.9,373.5 L263.1,374.0 L264.3,374.6 L265.5,375.2 L266.7,375.9 L267.9,376.6 L269.0,377.3 L270.2,378.0 L271.4,378.8 L272.5,379.5 L273.7,380.3 L274.8,381.2 L275.9,382.0 L277.1,382.9 L278.2,383.8 L279.0,384.6" fill="none" stroke="#aa5a64" stroke-width="1.12" stroke-linejoin="round"/>
<path d="M32.4,436.7 L33.5,435.5 L34.6,434.7 L35.8,433.9 L36.9,433.1 L38.0,432.4 L39.2,431.6 L40.3,430.8 L41.5,430.0 L42.6,429.2 L43.7,428.4 L44.9,427.6 L46.0,426.8 L47.2,426.0 L48.3,425.2 L49.4,424.4 L50.6,423.6 L51.7,422.7 L52.9,421.9 L54.0,421.1 L55.1,420.3 L56.3,419.5 L57.4,418.7 L58.6,417.9 L59.7,417.1 L60.8,416.2 L62.0,415.4 L63.1,414.6 L64.3,413.8 L65.4,413.0 L66.5,412.2 L67.7,411.4 L68.8,410.5 L70.0,409.7 L71.1,408.9 L72.2,408.1 L73.4,407.3 L74.5,406.4 L75.7,405.6 L76.8,404.8 L78.0,404.0 L79.1,403.2 L80.3,402.4 L81.4,401.6 L82.6,400.7 L83.7,399.9 L84.8,399.1 L86.0,398.3 L87.2,397.5 L88.3,396.7 L89.5,395.9 L90.6,395.1 L91.8,394.2 L92.9,393.4 L94.1,392.6 L95.2,391.8 L96.4,391.0 L97.5,390.2 L98.7,389.4 L99.9,388.6 L101.0,387.8 L102.2,387.0 L103.3,386.2 L104.5,385.4 L105.7,384.6 L106.8,383.8 L108.0,383.0 L109.2,382.2 L110.3,381.5 L111.5,380.7 L112.7,379.9 L113.9,379.1 L115.0,378.3 L116.2,377.6 L117.4,376.8 L118.6,376.0 L119.8,375.2 L120.9,374.5 L122.1,373.7 L123.3,372.9 L124.5,372.2 L125.7,371.4 L126.9,370.6 L128.1,369.9 L129.3,369.1 L130.5,368.4 L131.7,367.6 L132.8,366.9 L134.1,366.2 L135.3,365.4 L136.5,364.7 L137.7,363.9 L138.9,363.2 L140.1,362.5 L141.3,361.8 L142.5,361.1 L143.7,360.3 L144.9,359.6 L146.2,358.9 L147.4,358.2 L148.6,357.5 L149.8,356.8 L151.1,356.1 L152.3,355.4 L153.5,354.7 L154.8,354.0 L156.0,353.3 L157.2,352.7 L158.5,352.0 L159.7,351.3 L161.0,350.6 L162.2,350.0 L163.5,349.3 L164.7,348.7 L166.0,348.0 L167.2,347.4 L168.5,346.7 L169.8,346.1 L171.0,345.5 L172.3,344.8 L173.6,344.2 L174.8,343.6 L176.1,343.0 L177.4,342.4 L178.7,341.8 L180.0,341.2 L181.3,340.6 L182.6,340.0 L183.8,339.4 L185.1,338.8 L186.4,338.2 L187.7,337.7 L189.0,337.1 L190.3,336.5 L191.7,336.0 L193.0,335.4 L194.3,334.9 L195.6,334.4 L196.9,333.8 L198.2,333.3 L199.6,332.8 L200.9,332.3 L202.2,331.8 L203.6,331.4 L204.9,330.9 L206.2,330.4 L207.6,330.0 L208.9,329.6 L210.2,329.1 L211.6,328.7 L212.9,328.3 L214.3,328.0 L215.6,327.6 L217.0,327.2 L218.3,326.9 L219.7,326.6 L221.0,326.3 L222.4,326.0 L223.7,325.7 L225.1,325.4 L226.4,325.2 L227.8,325.0 L229.2,324.8 L230.5,324.6 L231.9,324.4 L233.2,324.2 L234.6,324.1 L236.0,324.0 L237.3,323.9 L238.7,323.8 L240.1,323.8 L241.4,323.7 L242.8,323.7 L244.2,323.7 L245.5,323.8 L246.9,323.8 L248.2,323.9 L249.6,324.0 L251.0,324.1 L252.3,324.3 L253.7,324.4 L255.1,324.6 L256.4,324.9 L257.8,325.1 L259.1,325.4 L260.5,325.7 L261.9,326.0 L263.2,326.4 L264.6,326.8 L266.0,327.2 L267.3,327.6 L268.7,328.1 L270.0,328.6 L271.4,329.1 L272.7,329.7 L274.1,330.3 L275.4,330.9 L276.8,331.6 L278.1,332.3 L278.9,333.5" fill="none" stroke="#789660" stroke-width="1.12" stroke-linejoin="round"/>
<path d="M32.4,436.7 L33.4,435.8 L34.5,434.7 L35.7,433.6 L36.8,432.6 L37.9,431.5 L39.0,430.4 L40.1,429.4 L41.2,428.3 L42.3,427.3 L43.4,426.2 L44.5,425.1 L45.7,424.1 L46.8,423.0 L47.9,422.0 L49.0,420.9 L50.1,419.9 L51.2,418.9 L52.3,417.8 L53.4,416.8 L54.5,415.7 L55.6,414.7 L56.8,413.6 L57.9,412.6 L59.0,411.6 L60.1,410.5 L61.2,409.5 L62.3,408.5 L63.4,407.4 L64.5,406.4 L65.6,405.4 L66.8,404.3 L67.9,403.3 L69.0,402.3 L70.1,401.3 L71.2,400.2 L72.3,399.2 L73.4,398.2 L74.6,397.2 L75.7,396.2 L76.8,395.1 L77.9,394.1 L79.0,393.1 L80.1,392.1 L81.3,391.1 L82.4,390.1 L83.5,389.1 L84.6,388.1 L85.7,387.1 L86.9,386.1 L88.0,385.1 L89.1,384.1 L90.2,383.1 L91.4,382.1 L92.5,381.1 L93.6,380.1 L94.8,379.1 L95.9,378.1 L97.0,377.1 L98.1,376.1 L99.3,375.1 L100.4,374.1 L101.5,373.1 L102.7,372.1 L103.8,371.2 L105.0,370.2 L106.1,369.2 L107.2,368.2 L108.4,367.2 L109.5,366.3 L110.7,365.3 L111.8,364.3 L113.0,363.3 L114.1,362.4 L115.2,361.4 L116.4,360.4 L117.5,359.4 L118.7,358.5 L119.9,357.5 L121.0,356.6 L122.2,355.6 L123.3,354.6 L124.5,353.7 L125.7,352.7 L126.8,351.7 L128.0,350.8 L129.2,349.8 L130.3,348.9 L131.5,347.9 L132.7,347.0 L133.8,346.0 L135.0,345.1 L136.2,344.1 L137.4,343.1 L138.6,342.2 L139.7,341.3 L140.9,340.3 L142.1,339.4 L143.3,338.4 L144.5,337.5 L145.7,336.5 L146.9,335.6 L148.1,334.7 L149.3,333.7 L150.5,332.8 L151.7,331.9 L152.9,330.9 L154.1,330.0 L155.3,329.1 L156.5,328.1 L157.7,327.2 L158.9,326.3 L160.1,325.3 L161.4,324.4 L162.6,323.5 L163.8,322.6 L165.0,321.6 L166.3,320.7 L167.5,319.8 L168.7,318.9 L170.0,318.0 L171.2,317.1 L172.4,316.1 L173.7,315.2 L174.9,314.3 L176.2,313.4 L177.4,312.5 L178.7,311.6 L179.9,310.7 L181.2,309.8 L182.4,308.9 L183.7,308.0 L185.0,307.2 L186.3,306.3 L187.5,305.4 L188.8,304.6 L190.1,303.7 L191.4,302.9 L192.7,302.0 L193.9,301.2 L195.2,300.4 L196.5,299.6 L197.8,298.8 L199.2,297.9 L200.5,297.2 L201.8,296.4 L203.1,295.6 L204.4,294.9 L205.7,294.1 L207.1,293.4 L208.4,292.7 L209.7,292.0 L211.1,291.3 L212.4,290.6 L213.8,290.0 L215.1,289.3 L216.5,288.7 L217.8,288.1 L219.2,287.4 L220.6,286.9 L221.9,286.3 L223.3,285.7 L224.7,285.2 L226.1,284.7 L227.5,284.2 L228.9,283.7 L230.3,283.2 L231.7,282.8 L233.1,282.3 L234.5,281.9 L235.9,281.5 L237.4,281.2 L238.8,280.8 L240.2,280.5 L241.7,280.2 L243.1,279.9 L244.6,279.6 L246.0,279.4 L247.5,279.2 L249.0,279.0 L250.4,278.9 L251.9,278.7 L253.4,278.6 L254.9,278.6 L256.4,278.5 L257.9,278.5 L259.4,278.5 L260.9,278.6 L262.4,278.6 L263.9,278.7 L265.4,278.9 L266.9,279.1 L268.4,279.2 L270.0,279.5 L271.5,279.8 L273.1,280.1 L274.6,280.4 L276.1,280.8 L277.7,281.2 L278.8,282.5" fill="none" stroke="#eca048" stroke-width="1.12" stroke-linejoin="round"/>
<line x1="27.2" y1="269" x2="27.2" y2="442.9" stroke="#6a6a6a" stroke-width="1.25"/>
<line x1="26.6" y1="442.3" x2="331.2" y2="442.3" stroke="#8c8c8c" stroke-width="1.35"/>
<line x1="23.4" y1="436.9" x2="27.2" y2="436.9" stroke="#6a6a6a" stroke-width="1.1"/>
<text class="ty" text-anchor="middle" transform="translate(20.3,436.6) rotate(-90) scale(0.885,1)">0</text>
<line x1="23.4" y1="396.3" x2="27.2" y2="396.3" stroke="#6a6a6a" stroke-width="1.1"/>
<text class="ty" text-anchor="middle" transform="translate(20.3,396) rotate(-90) scale(0.885,1)">20000</text>
<line x1="23.4" y1="355.7" x2="27.2" y2="355.7" stroke="#6a6a6a" stroke-width="1.1"/>
<text class="ty" text-anchor="middle" transform="translate(20.3,355.4) rotate(-90) scale(0.885,1)">40000</text>
<line x1="23.4" y1="315.1" x2="27.2" y2="315.1" stroke="#6a6a6a" stroke-width="1.1"/>
<text class="ty" text-anchor="middle" transform="translate(20.3,314.8) rotate(-90) scale(0.885,1)">60000</text>
<line x1="23.4" y1="274.5" x2="27.2" y2="274.5" stroke="#6a6a6a" stroke-width="1.1"/>
<text class="ty" text-anchor="middle" transform="translate(20.3,274.2) rotate(-90) scale(0.885,1)">80000</text>
<line x1="32.7" y1="442.3" x2="32.7" y2="446" stroke="#6a6a6a" stroke-width="1.1"/>
<text class="tk" text-anchor="middle" transform="translate(32.7,456.4) scale(0.98,1)">0</text>
<line x1="62.01" y1="442.3" x2="62.01" y2="446" stroke="#6a6a6a" stroke-width="1.1"/>
<text class="tk" text-anchor="middle" transform="translate(62.01,456.4) scale(0.98,1)">.1</text>
<line x1="91.32" y1="442.3" x2="91.32" y2="446" stroke="#6a6a6a" stroke-width="1.1"/>
<text class="tk" text-anchor="middle" transform="translate(91.32,456.4) scale(0.98,1)">.2</text>
<line x1="120.63" y1="442.3" x2="120.63" y2="446" stroke="#6a6a6a" stroke-width="1.1"/>
<text class="tk" text-anchor="middle" transform="translate(120.63,456.4) scale(0.98,1)">.3</text>
<line x1="149.94" y1="442.3" x2="149.94" y2="446" stroke="#6a6a6a" stroke-width="1.1"/>
<text class="tk" text-anchor="middle" transform="translate(149.94,456.4) scale(0.98,1)">.4</text>
<line x1="179.25" y1="442.3" x2="179.25" y2="446" stroke="#6a6a6a" stroke-width="1.1"/>
<text class="tk" text-anchor="middle" transform="translate(179.25,456.4) scale(0.98,1)">.5</text>
<line x1="208.56" y1="442.3" x2="208.56" y2="446" stroke="#6a6a6a" stroke-width="1.1"/>
<text class="tk" text-anchor="middle" transform="translate(208.56,456.4) scale(0.98,1)">.6</text>
<line x1="237.87" y1="442.3" x2="237.87" y2="446" stroke="#6a6a6a" stroke-width="1.1"/>
<text class="tk" text-anchor="middle" transform="translate(237.87,456.4) scale(0.98,1)">.7</text>
<line x1="267.18" y1="442.3" x2="267.18" y2="446" stroke="#6a6a6a" stroke-width="1.1"/>
<text class="tk" text-anchor="middle" transform="translate(267.18,456.4) scale(0.98,1)">.8</text>
<line x1="296.49" y1="442.3" x2="296.49" y2="446" stroke="#6a6a6a" stroke-width="1.1"/>
<text class="tk" text-anchor="middle" transform="translate(296.49,456.4) scale(0.98,1)">.9</text>
<line x1="325.8" y1="442.3" x2="325.8" y2="446" stroke="#6a6a6a" stroke-width="1.1"/>
<text class="tk" text-anchor="middle" transform="translate(325.8,456.4) scale(0.98,1)">1</text>
<text class="at" text-anchor="middle" transform="translate(179.2,465.4) scale(1.0,1)">Marginal tax rate</text>
<text class="ay" text-anchor="middle" transform="translate(10.5,356.95) rotate(-90)">PIT revenue</text>
<text class="ti" text-anchor="middle" transform="translate(179.2,266.2) scale(0.875,1)">Panel C: Linear schedule (savings base)</text>
<rect x="34.6" y="472.4" width="290.2" height="16.8" fill="#fff" stroke="#7a7a7a" stroke-width="1.2"/>
<line x1="38.8" y1="481" x2="71.5" y2="481" stroke="#45698f" stroke-width="1.15"/>
<text class="lg" transform="translate(76.4,485) scale(0.96,1)">s=0</text>
<line x1="106.3" y1="481" x2="139" y2="481" stroke="#aa5a64" stroke-width="1.15"/>
<text class="lg" transform="translate(143.9,485) scale(0.96,1)">s=0.1</text>
<line x1="181.5" y1="481" x2="214.2" y2="481" stroke="#789660" stroke-width="1.15"/>
<text class="lg" transform="translate(219.1,485) scale(0.96,1)">s=0.2</text>
<line x1="257.7" y1="481" x2="290.4" y2="481" stroke="#eca048" stroke-width="1.15"/>
<text class="lg" transform="translate(295.3,485) scale(0.96,1)">s=0.3</text>
<line x1="378" y1="437.1" x2="681.7" y2="437.1" stroke="#eff3f5" stroke-width="1.1"/>
<line x1="378" y1="404.66" x2="681.7" y2="404.66" stroke="#eff3f5" stroke-width="1.1"/>
<line x1="378" y1="372.22" x2="681.7" y2="372.22" stroke="#eff3f5" stroke-width="1.1"/>
<line x1="378" y1="339.78" x2="681.7" y2="339.78" stroke="#eff3f5" stroke-width="1.1"/>
<line x1="378" y1="307.34" x2="681.7" y2="307.34" stroke="#eff3f5" stroke-width="1.1"/>
<line x1="378" y1="274.9" x2="681.7" y2="274.9" stroke="#eff3f5" stroke-width="1.1"/>
<path d="M382.6,437.2 L383.1,437.2 L383.5,437.2 L384.0,437.2 L384.5,437.1 L384.9,437.1 L385.4,437.1 L385.9,437.1 L386.3,437.1 L386.8,437.1 L387.2,437.1 L387.7,437.1 L388.2,437.1 L388.6,437.0 L389.1,437.0 L389.6,437.0 L390.0,437.0 L390.5,437.0 L391.0,437.0 L391.4,436.9 L391.9,436.9 L392.4,436.9 L392.8,436.9 L393.3,436.9 L393.8,436.9 L394.2,436.9 L394.7,436.8 L395.2,436.8 L395.6,436.8 L396.1,436.8 L396.6,436.8 L397.0,436.8 L397.5,436.7 L397.9,436.7 L398.4,436.7 L398.9,436.7 L399.3,436.7 L399.8,436.6 L400.3,436.6 L400.7,436.6 L401.2,436.6 L401.7,436.6 L402.1,436.6 L402.6,436.5 L403.1,436.5 L403.5,436.5 L404.0,436.5 L404.5,436.5 L404.9,436.4 L405.4,436.4 L405.9,436.4 L406.3,436.4 L406.8,436.4 L407.2,436.3 L407.7,436.3 L408.2,436.3 L408.6,436.3 L409.1,436.2 L409.6,436.2 L410.0,436.2 L410.5,436.2 L411.0,436.1 L411.4,436.1 L411.9,436.1 L412.4,436.1 L412.8,436.1 L413.3,436.0 L413.8,436.0 L414.2,436.0 L414.7,436.0 L415.1,435.9 L415.6,435.9 L416.1,435.9 L416.5,435.9 L417.0,435.8 L417.5,435.8 L417.9,435.8 L418.4,435.8 L418.9,435.7 L419.3,435.7 L419.8,435.7 L420.3,435.7 L420.7,435.6 L421.2,435.6 L421.6,435.6 L422.1,435.6 L422.6,435.5 L423.0,435.5 L423.5,435.5 L424.0,435.4 L424.4,435.4 L424.9,435.4 L425.4,435.4 L425.8,435.3 L426.3,435.3 L426.8,435.3 L427.2,435.2 L427.7,435.2 L428.1,435.2 L428.6,435.1 L429.1,435.1 L429.5,435.1 L430.0,435.1 L430.5,435.0 L430.9,435.0 L431.4,435.0 L431.9,434.9 L432.3,434.9 L432.8,434.9 L433.3,434.8 L433.7,434.8 L434.2,434.8 L434.6,434.7 L435.1,434.7 L435.6,434.7 L436.0,434.6 L436.5,434.6 L437.0,434.6 L437.4,434.5 L437.9,434.5 L439.4,433.9 L440.7,433.4 L442.0,432.9 L443.3,432.4 L444.7,432.0 L446.0,431.5 L447.4,431.0 L448.7,430.5 L450.1,430.0 L451.4,429.6 L452.8,429.1 L454.1,428.6 L455.5,428.1 L456.9,427.7 L458.2,427.2 L459.6,426.7 L461.0,426.3 L462.4,425.8 L463.8,425.4 L465.1,424.9 L466.5,424.5 L467.9,424.0 L469.3,423.6 L470.7,423.2 L472.1,422.7 L473.5,422.3 L474.9,421.9 L476.3,421.5 L477.8,421.1 L479.2,420.7 L480.6,420.3 L482.0,419.9 L483.4,419.6 L484.8,419.2 L486.3,418.9 L487.7,418.5 L489.1,418.1 L490.6,417.8 L492.0,417.5 L493.4,417.2 L494.8,416.9 L496.3,416.6 L497.7,416.3 L499.1,416.0 L500.6,415.7 L502.0,415.5 L503.5,415.2 L504.9,415.0 L506.4,414.7 L507.8,414.5 L509.2,414.3 L510.7,414.1 L512.1,413.9 L513.6,413.8 L515.0,413.6 L516.5,413.4 L517.9,413.3 L519.4,413.2 L520.8,413.1 L522.3,413.0 L523.7,412.9 L525.2,412.8 L526.6,412.8 L528.1,412.7 L529.5,412.7 L531.0,412.7 L532.4,412.7 L533.9,412.7 L535.3,412.7 L536.7,412.8 L538.2,412.8 L539.6,412.9 L541.1,413.0 L542.5,413.1 L544.0,413.2 L545.4,413.4 L546.8,413.5 L548.3,413.7 L549.7,413.9 L551.1,414.1 L552.5,414.3 L554.0,414.5 L555.4,414.8 L556.8,415.1 L558.2,415.4 L559.6,415.7 L561.0,416.0 L562.4,416.3 L563.8,416.7 L565.2,417.1 L566.6,417.5 L568.0,417.9 L569.3,418.3 L570.7,418.8 L572.1,419.3 L573.4,419.8 L574.8,420.3 L576.1,420.8 L577.5,421.4 L578.8,421.9 L580.1,422.5 L581.5,423.1 L582.8,423.8 L584.1,424.4 L585.4,425.1 L586.6,425.8 L587.9,426.5 L589.2,427.2 L590.5,428.0 L591.7,428.8 L593.0,429.6 L594.2,430.4 L595.4,431.2 L596.6,432.1 L597.9,433.0 L599.0,433.9 L600.2,434.8 L601.4,435.8 L602.5,436.5" fill="none" stroke="#45698f" stroke-width="1.12" stroke-linejoin="round"/>
<path d="M382.6,437.2 L383.1,437.2 L383.5,437.2 L384.0,437.2 L384.5,437.2 L384.9,437.2 L385.4,437.2 L385.9,437.2 L386.3,437.2 L386.8,437.2 L387.2,437.2 L387.7,437.2 L388.2,437.2 L388.6,437.2 L389.1,437.2 L389.6,437.2 L390.0,437.2 L390.5,437.1 L391.0,437.1 L391.4,437.1 L391.9,437.1 L392.4,437.1 L392.8,437.1 L393.3,437.1 L393.8,437.1 L394.2,437.1 L394.7,437.1 L395.1,437.1 L395.6,437.1 L396.1,437.1 L396.6,437.1 L397.0,437.1 L397.5,437.1 L397.9,437.1 L398.4,437.1 L398.9,437.0 L399.3,437.0 L399.8,437.0 L400.3,437.0 L400.7,437.0 L401.2,437.0 L401.7,437.0 L402.1,437.0 L402.6,437.0 L403.1,437.0 L403.5,437.0 L404.0,436.9 L404.4,436.9 L404.9,436.9 L405.4,436.9 L405.8,436.9 L406.3,436.9 L406.8,436.9 L407.2,436.9 L407.7,436.9 L408.2,436.9 L408.6,436.8 L409.1,436.8 L409.6,436.8 L410.0,436.8 L410.5,436.8 L411.0,436.8 L411.4,436.8 L411.9,436.8 L412.4,436.7 L412.8,436.7 L413.3,436.7 L413.7,436.7 L414.2,436.7 L414.7,436.7 L415.1,436.6 L415.6,436.6 L416.1,436.6 L416.5,436.6 L417.0,436.6 L417.5,436.6 L417.9,436.6 L418.4,436.5 L418.9,436.5 L419.3,436.5 L419.8,436.5 L420.2,436.5 L420.7,436.5 L421.2,436.4 L421.6,436.4 L422.1,436.4 L422.6,436.4 L423.0,436.4 L423.5,436.4 L424.0,436.3 L424.4,436.3 L424.9,436.3 L425.4,436.3 L425.8,436.3 L426.3,436.2 L426.8,436.2 L427.2,436.2 L427.7,436.2 L428.1,436.2 L428.6,436.1 L429.1,436.1 L429.5,436.1 L430.0,436.1 L430.5,436.1 L430.9,436.0 L431.4,436.0 L431.9,436.0 L432.3,436.0 L432.8,435.9 L433.3,435.9 L433.7,435.9 L434.2,435.9 L434.6,435.9 L435.1,435.8 L435.6,435.8 L436.0,435.8 L436.5,435.8 L437.0,435.8 L437.4,435.7 L437.9,435.7 L439.3,434.9 L440.6,434.2 L441.9,433.4 L443.1,432.7 L444.4,431.9 L445.7,431.1 L447.0,430.4 L448.3,429.6 L449.6,428.8 L450.8,428.1 L452.1,427.3 L453.4,426.5 L454.7,425.7 L455.9,424.9 L457.2,424.1 L458.5,423.4 L459.8,422.6 L461.1,421.8 L462.4,421.0 L463.6,420.2 L464.9,419.4 L466.2,418.6 L467.5,417.8 L468.8,417.0 L470.1,416.2 L471.4,415.5 L472.7,414.7 L474.0,413.9 L475.3,413.1 L476.6,412.3 L477.9,411.6 L479.2,410.8 L480.5,410.0 L481.8,409.2 L483.1,408.5 L484.4,407.7 L485.7,407.0 L487.0,406.2 L488.4,405.5 L489.7,404.7 L491.0,404.0 L492.3,403.2 L493.6,402.5 L495.0,401.8 L496.3,401.1 L497.6,400.4 L499.0,399.6 L500.3,398.9 L501.7,398.2 L503.0,397.6 L504.4,396.9 L505.7,396.2 L507.1,395.5 L508.4,394.9 L509.8,394.2 L511.2,393.6 L512.5,393.0 L513.9,392.3 L515.3,391.7 L516.7,391.1 L518.1,390.5 L519.5,389.9 L520.9,389.4 L522.2,388.8 L523.6,388.2 L525.1,387.7 L526.5,387.1 L527.9,386.6 L529.3,386.1 L530.7,385.6 L532.1,385.1 L533.6,384.6 L535.0,384.2 L536.5,383.7 L537.9,383.3 L539.4,382.9 L540.8,382.4 L542.3,382.1 L543.7,381.7 L545.2,381.3 L546.7,381.0 L548.1,380.6 L549.6,380.3 L551.1,380.0 L552.6,379.8 L554.1,379.5 L555.5,379.3 L557.0,379.1 L558.5,378.9 L560.0,378.7 L561.5,378.5 L563.0,378.4 L564.5,378.3 L566.0,378.2 L567.4,378.2 L568.9,378.1 L570.4,378.1 L571.9,378.2 L573.4,378.2 L574.9,378.3 L576.4,378.4 L577.9,378.6 L579.3,378.7 L580.8,378.9 L582.3,379.1 L583.8,379.4 L585.2,379.7 L586.7,380.0 L588.2,380.4 L589.6,380.8 L591.1,381.2 L592.6,381.6 L594.0,382.1 L595.5,382.7 L596.9,383.2 L598.4,383.8 L599.8,384.5 L601.2,385.2 L602.5,385.8" fill="none" stroke="#aa5a64" stroke-width="1.12" stroke-linejoin="round"/>
<path d="M382.6,437.2 L383.1,437.2 L383.5,437.2 L384.0,437.2 L384.5,437.1 L384.9,437.1 L385.4,437.1 L385.9,437.1 L386.3,437.1 L386.8,437.1 L387.3,437.1 L387.7,437.1 L388.2,437.1 L388.7,437.0 L389.1,437.0 L389.6,437.0 L390.1,437.0 L390.5,437.0 L391.0,436.9 L391.4,436.9 L391.9,436.9 L392.4,436.9 L392.9,436.9 L393.3,436.9 L393.8,436.9 L394.2,436.8 L394.7,436.8 L395.2,436.8 L395.6,436.8 L396.1,436.8 L396.6,436.7 L397.0,436.7 L397.5,436.7 L398.0,436.7 L398.4,436.6 L398.9,436.6 L399.4,436.6 L399.8,436.6 L400.3,436.6 L400.8,436.5 L401.2,436.5 L401.7,436.5 L402.1,436.5 L402.6,436.4 L403.1,436.4 L403.6,436.4 L404.0,436.4 L404.5,436.3 L404.9,436.3 L405.4,436.3 L405.9,436.2 L406.3,436.2 L406.8,436.2 L407.3,436.2 L407.7,436.1 L408.2,436.1 L408.7,436.1 L409.1,436.1 L409.6,436.0 L410.1,436.0 L410.5,436.0 L411.0,435.9 L411.4,435.9 L411.9,435.9 L412.4,435.8 L412.8,435.8 L413.3,435.8 L413.8,435.8 L414.2,435.7 L414.7,435.7 L415.2,435.6 L415.6,435.6 L416.1,435.6 L416.6,435.5 L417.0,435.5 L417.5,435.5 L417.9,435.4 L418.4,435.4 L418.9,435.4 L419.4,435.3 L419.8,435.3 L420.3,435.3 L420.7,435.2 L421.2,435.2 L421.7,435.1 L422.1,435.1 L422.6,435.1 L423.1,435.0 L423.5,435.0 L424.0,434.9 L424.4,434.9 L424.9,434.9 L425.4,434.8 L425.8,434.8 L426.3,434.7 L426.8,434.7 L427.2,434.7 L427.7,434.6 L428.2,434.6 L428.6,434.5 L429.1,434.5 L429.6,434.4 L430.0,434.4 L430.5,434.4 L430.9,434.3 L431.4,434.3 L431.9,434.2 L432.3,434.2 L432.8,434.1 L433.3,434.1 L433.7,434.0 L434.2,434.0 L434.7,433.9 L435.1,433.9 L435.6,433.8 L436.1,433.8 L436.5,433.8 L437.0,433.7 L437.4,433.6 L437.9,433.6 L439.3,432.7 L440.7,431.7 L442.0,430.7 L443.3,429.6 L444.6,428.6 L445.9,427.6 L447.2,426.5 L448.5,425.4 L449.8,424.3 L451.0,423.2 L452.3,422.1 L453.6,421.0 L454.8,419.9 L456.1,418.8 L457.3,417.7 L458.5,416.6 L459.8,415.4 L461.0,414.3 L462.2,413.1 L463.5,412.0 L464.7,410.8 L465.9,409.7 L467.1,408.5 L468.4,407.3 L469.6,406.2 L470.8,405.0 L472.0,403.9 L473.2,402.7 L474.4,401.5 L475.6,400.4 L476.9,399.2 L478.1,398.0 L479.3,396.9 L480.5,395.7 L481.7,394.6 L483.0,393.4 L484.2,392.3 L485.4,391.1 L486.6,390.0 L487.9,388.9 L489.1,387.7 L490.4,386.6 L491.6,385.5 L492.9,384.4 L494.1,383.3 L495.4,382.2 L496.6,381.1 L497.9,380.0 L499.2,379.0 L500.4,377.9 L501.7,376.8 L503.0,375.8 L504.3,374.7 L505.6,373.6 L506.9,372.6 L508.1,371.5 L509.4,370.5 L510.7,369.4 L512.0,368.4 L513.4,367.3 L514.7,366.3 L516.0,365.2 L517.3,364.2 L518.6,363.2 L519.9,362.1 L521.3,361.1 L522.6,360.1 L524.0,359.1 L525.3,358.0 L526.7,357.0 L528.0,356.0 L529.4,355.0 L530.8,354.0 L532.2,353.0 L533.6,352.1 L535.0,351.1 L536.4,350.1 L537.8,349.2 L539.2,348.3 L540.6,347.4 L542.1,346.5 L543.5,345.6 L545.0,344.7 L546.4,343.9 L547.9,343.0 L549.4,342.2 L550.9,341.4 L552.3,340.6 L553.8,339.9 L555.3,339.1 L556.9,338.4 L558.4,337.7 L559.9,337.1 L561.4,336.4 L563.0,335.8 L564.5,335.2 L566.1,334.6 L567.6,334.1 L569.2,333.6 L570.8,333.1 L572.4,332.7 L574.0,332.3 L575.6,331.9 L577.2,331.6 L578.8,331.2 L580.5,331.0 L582.1,330.7 L583.7,330.5 L585.4,330.3 L587.1,330.2 L588.7,330.1 L590.4,330.1 L592.1,330.0 L593.8,330.1 L595.5,330.1 L597.2,330.2 L599.0,330.4 L600.7,330.6 L602.3,331.0" fill="none" stroke="#789660" stroke-width="1.12" stroke-linejoin="round"/>
<path d="M382.6,437.2 L383.1,437.2 L383.5,437.2 L384.0,437.2 L384.5,437.1 L384.9,437.1 L385.4,437.1 L385.9,437.1 L386.3,437.1 L386.8,437.1 L387.3,437.1 L387.7,437.0 L388.2,437.0 L388.7,437.0 L389.1,437.0 L389.6,437.0 L390.1,436.9 L390.5,436.9 L391.0,436.9 L391.5,436.9 L391.9,436.9 L392.4,436.9 L392.9,436.8 L393.3,436.8 L393.8,436.8 L394.3,436.8 L394.7,436.7 L395.2,436.7 L395.7,436.7 L396.1,436.6 L396.6,436.6 L397.1,436.6 L397.5,436.6 L398.0,436.5 L398.5,436.5 L398.9,436.5 L399.4,436.4 L399.9,436.4 L400.3,436.4 L400.8,436.4 L401.3,436.3 L401.7,436.3 L402.2,436.2 L402.7,436.2 L403.1,436.2 L403.6,436.1 L404.1,436.1 L404.5,436.1 L405.0,436.0 L405.5,436.0 L405.9,436.0 L406.4,435.9 L406.9,435.9 L407.3,435.8 L407.8,435.8 L408.2,435.8 L408.7,435.7 L409.2,435.7 L409.6,435.6 L410.1,435.6 L410.6,435.6 L411.0,435.5 L411.5,435.5 L412.0,435.4 L412.4,435.4 L412.9,435.3 L413.4,435.3 L413.8,435.2 L414.3,435.2 L414.8,435.1 L415.2,435.1 L415.7,435.0 L416.1,435.0 L416.6,434.9 L417.1,434.9 L417.5,434.8 L418.0,434.8 L418.5,434.7 L418.9,434.7 L419.4,434.6 L419.9,434.6 L420.3,434.5 L420.8,434.4 L421.2,434.4 L421.7,434.3 L422.2,434.3 L422.6,434.2 L423.1,434.2 L423.6,434.1 L424.0,434.0 L424.5,434.0 L424.9,433.9 L425.4,433.9 L425.9,433.8 L426.3,433.7 L426.8,433.7 L427.3,433.6 L427.7,433.5 L428.2,433.5 L428.7,433.4 L429.1,433.4 L429.6,433.3 L430.0,433.2 L430.5,433.1 L431.0,433.1 L431.4,433.0 L431.9,432.9 L432.4,432.9 L432.8,432.8 L433.3,432.7 L433.7,432.7 L434.2,432.6 L434.7,432.5 L435.1,432.4 L435.6,432.4 L436.1,432.3 L436.5,432.2 L437.0,432.1 L437.4,432.1 L437.9,432.0 L439.6,431.0 L441.1,429.7 L442.4,428.3 L443.8,427.0 L445.2,425.6 L446.5,424.2 L447.8,422.8 L449.1,421.3 L450.4,419.9 L451.6,418.4 L452.9,416.9 L454.1,415.4 L455.4,413.9 L456.6,412.4 L457.8,410.9 L459.0,409.4 L460.2,407.9 L461.4,406.3 L462.6,404.8 L463.8,403.3 L465.0,401.7 L466.1,400.2 L467.3,398.6 L468.5,397.1 L469.7,395.6 L470.9,394.0 L472.1,392.5 L473.2,391.0 L474.4,389.4 L475.6,387.9 L476.8,386.4 L478.0,384.9 L479.2,383.4 L480.4,381.8 L481.6,380.3 L482.8,378.8 L484.0,377.3 L485.2,375.8 L486.4,374.3 L487.6,372.8 L488.9,371.3 L490.1,369.8 L491.3,368.3 L492.5,366.8 L493.7,365.3 L495.0,363.8 L496.2,362.3 L497.4,360.8 L498.7,359.3 L499.9,357.8 L501.1,356.3 L502.4,354.9 L503.6,353.4 L504.9,351.9 L506.1,350.4 L507.4,348.9 L508.7,347.4 L509.9,346.0 L511.2,344.5 L512.5,343.0 L513.8,341.6 L515.0,340.1 L516.3,338.6 L517.6,337.1 L518.9,335.7 L520.2,334.2 L521.5,332.8 L522.8,331.3 L524.1,329.8 L525.4,328.4 L526.8,326.9 L528.1,325.5 L529.4,324.1 L530.8,322.7 L532.1,321.3 L533.5,319.9 L534.9,318.5 L536.2,317.1 L537.6,315.7 L539.0,314.3 L540.4,313.0 L541.8,311.6 L543.2,310.3 L544.7,309.0 L546.1,307.7 L547.5,306.4 L549.0,305.1 L550.5,303.9 L552.0,302.6 L553.4,301.4 L554.9,300.2 L556.5,299.0 L558.0,297.9 L559.5,296.7 L561.1,295.6 L562.6,294.5 L564.2,293.4 L565.8,292.3 L567.4,291.2 L569.0,290.2 L570.7,289.2 L572.3,288.2 L574.0,287.3 L575.6,286.3 L577.3,285.4 L579.0,284.6 L580.8,283.7 L582.5,282.9 L584.3,282.1 L586.0,281.3 L587.8,280.6 L589.6,279.8 L591.5,279.1 L593.3,278.5 L595.2,277.9 L597.0,277.3 L599.0,276.7 L600.9,276.2 L602.8,275.9" fill="none" stroke="#eca048" stroke-width="1.12" stroke-linejoin="round"/>
<line x1="377.3" y1="269" x2="377.3" y2="442.9" stroke="#6a6a6a" stroke-width="1.25"/>
<line x1="376.7" y1="442.3" x2="681.7" y2="442.3" stroke="#8c8c8c" stroke-width="1.35"/>
<line x1="373.5" y1="437.1" x2="377.3" y2="437.1" stroke="#6a6a6a" stroke-width="1.1"/>
<text class="ty" text-anchor="middle" transform="translate(370.2,436.8) rotate(-90) scale(0.885,1)">0</text>
<line x1="373.5" y1="404.66" x2="377.3" y2="404.66" stroke="#6a6a6a" stroke-width="1.1"/>
<text class="ty" text-anchor="middle" transform="translate(370.2,404.36) rotate(-90) scale(0.885,1)">10000</text>
<line x1="373.5" y1="372.22" x2="377.3" y2="372.22" stroke="#6a6a6a" stroke-width="1.1"/>
<text class="ty" text-anchor="middle" transform="translate(370.2,371.92) rotate(-90) scale(0.885,1)">20000</text>
<line x1="373.5" y1="339.78" x2="377.3" y2="339.78" stroke="#6a6a6a" stroke-width="1.1"/>
<text class="ty" text-anchor="middle" transform="translate(370.2,339.48) rotate(-90) scale(0.885,1)">30000</text>
<line x1="373.5" y1="307.34" x2="377.3" y2="307.34" stroke="#6a6a6a" stroke-width="1.1"/>
<text class="ty" text-anchor="middle" transform="translate(370.2,307.04) rotate(-90) scale(0.885,1)">40000</text>
<line x1="373.5" y1="274.9" x2="377.3" y2="274.9" stroke="#6a6a6a" stroke-width="1.1"/>
<text class="ty" text-anchor="middle" transform="translate(370.2,274.6) rotate(-90) scale(0.885,1)">50000</text>
<line x1="382.4" y1="442.3" x2="382.4" y2="446" stroke="#6a6a6a" stroke-width="1.1"/>
<text class="tk" text-anchor="middle" transform="translate(382.4,456.4) scale(0.98,1)">0</text>
<line x1="411.76" y1="442.3" x2="411.76" y2="446" stroke="#6a6a6a" stroke-width="1.1"/>
<text class="tk" text-anchor="middle" transform="translate(411.76,456.4) scale(0.98,1)">.1</text>
<line x1="441.12" y1="442.3" x2="441.12" y2="446" stroke="#6a6a6a" stroke-width="1.1"/>
<text class="tk" text-anchor="middle" transform="translate(441.12,456.4) scale(0.98,1)">.2</text>
<line x1="470.48" y1="442.3" x2="470.48" y2="446" stroke="#6a6a6a" stroke-width="1.1"/>
<text class="tk" text-anchor="middle" transform="translate(470.48,456.4) scale(0.98,1)">.3</text>
<line x1="499.84" y1="442.3" x2="499.84" y2="446" stroke="#6a6a6a" stroke-width="1.1"/>
<text class="tk" text-anchor="middle" transform="translate(499.84,456.4) scale(0.98,1)">.4</text>
<line x1="529.2" y1="442.3" x2="529.2" y2="446" stroke="#6a6a6a" stroke-width="1.1"/>
<text class="tk" text-anchor="middle" transform="translate(529.2,456.4) scale(0.98,1)">.5</text>
<line x1="558.56" y1="442.3" x2="558.56" y2="446" stroke="#6a6a6a" stroke-width="1.1"/>
<text class="tk" text-anchor="middle" transform="translate(558.56,456.4) scale(0.98,1)">.6</text>
<line x1="587.92" y1="442.3" x2="587.92" y2="446" stroke="#6a6a6a" stroke-width="1.1"/>
<text class="tk" text-anchor="middle" transform="translate(587.92,456.4) scale(0.98,1)">.7</text>
<line x1="617.28" y1="442.3" x2="617.28" y2="446" stroke="#6a6a6a" stroke-width="1.1"/>
<text class="tk" text-anchor="middle" transform="translate(617.28,456.4) scale(0.98,1)">.8</text>
<line x1="646.64" y1="442.3" x2="646.64" y2="446" stroke="#6a6a6a" stroke-width="1.1"/>
<text class="tk" text-anchor="middle" transform="translate(646.64,456.4) scale(0.98,1)">.9</text>
<line x1="676" y1="442.3" x2="676" y2="446" stroke="#6a6a6a" stroke-width="1.1"/>
<text class="tk" text-anchor="middle" transform="translate(676,456.4) scale(0.98,1)">1</text>
<text class="at" text-anchor="middle" transform="translate(529.5,465.4) scale(1.0,1)">Marginal tax rate</text>
<text class="ay" text-anchor="middle" transform="translate(360.5,355.65) rotate(-90)">PIT revenue</text>
<text class="ti" text-anchor="middle" transform="translate(529.5,266.2) scale(0.875,1)">Panel D: Stepwise schedule (savings base)</text>
<rect x="384.4" y="472.4" width="290.5" height="17.1" fill="#fff" stroke="#7a7a7a" stroke-width="1.2"/>
<line x1="388.6" y1="481.15" x2="421.3" y2="481.15" stroke="#45698f" stroke-width="1.15"/>
<text class="lg" transform="translate(426.2,485.15) scale(0.96,1)">s=0</text>
<line x1="456.1" y1="481.15" x2="488.8" y2="481.15" stroke="#aa5a64" stroke-width="1.15"/>
<text class="lg" transform="translate(493.7,485.15) scale(0.96,1)">s=0.1</text>
<line x1="531.3" y1="481.15" x2="564" y2="481.15" stroke="#789660" stroke-width="1.15"/>
<text class="lg" transform="translate(568.9,485.15) scale(0.96,1)">s=0.2</text>
<line x1="607.5" y1="481.15" x2="640.2" y2="481.15" stroke="#eca048" stroke-width="1.15"/>
<text class="lg" transform="translate(645.1,485.15) scale(0.96,1)">s=0.3</text>
</svg>
</body></html>
